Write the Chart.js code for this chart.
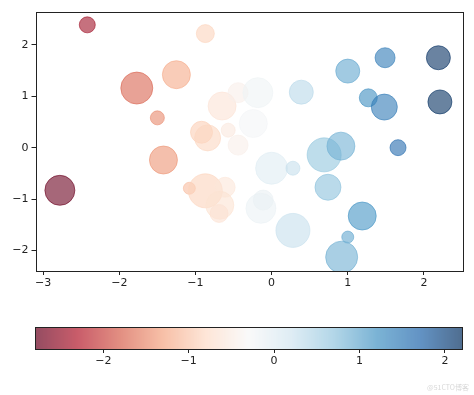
<!DOCTYPE html>
<html>
<head>
<meta charset="utf-8">
<script src="https://cdn.jsdelivr.net/npm/chart.js@4/dist/chart.umd.min.js"></script>
<style>
    body { margin: 0; background: #fff; }
    #wrap { position: relative; width: 474px; height: 395px; }
    canvas { position: absolute; left: 0; }
    #mark { position: absolute; right: 5px; bottom: 3px; font: 7px "Noto Sans CJK SC", sans-serif; color: #d8d8d8; }
</style>
</head>
<body>
<div id="wrap">
    <canvas id="scatter" width="474" height="295" style="top:0"></canvas>
    <canvas id="cbar" width="474" height="100" style="top:295px"></canvas>
    <div id="mark">@51CTO博客</div>
</div>
<script>
// point data (colour = x value)
const xs = [-2.42, -0.87, -1.77, -1.25, -1.50, -0.65, -0.44, -0.18, 0.39, 1.00, 1.49, 2.19, 1.27, 1.48, 2.21,
    -0.92, -0.84, -0.57, -0.24, -0.44, -1.42, -2.78, -1.08, -0.87, -0.61, -0.68, -0.69, 0.00, 0.28, 0.69,
    0.91, 1.66, 0.74, -0.14, -0.11, 0.28, 1.19, 1.00, 0.92];
const ys = [2.39, 2.22, 1.16, 1.42, 0.58, 0.81, 1.07, 1.07, 1.08, 1.49, 1.75, 1.75, 0.97, 0.79, 0.89,
    0.30, 0.19, 0.34, 0.47, 0.05, -0.24, -0.83, -0.79, -0.84, -0.77, -1.12, -1.28, -0.40, -0.40, -0.14,
    0.03, 0.00, -0.77, -1.18, -1.02, -1.61, -1.33, -1.74, -2.13];
const sizes = [8, 9, 16, 14, 7, 14, 10, 15, 12, 12, 10, 12, 9, 13, 12,
    11, 13, 7, 14, 10, 14, 15, 6, 17, 10, 14, 9, 16, 7, 17,
    14, 8, 13, 15, 10, 17, 14, 6, 16];
const xTicks = [-3, -2, -1, 0, 1, 2];
const yTicks = [-2, -1, 0, 1, 2];
const cbarTicks = [-2, -1, 0, 1, 2];
const cMin = -2.80, cMax = 2.20;

// RdBu colormap stops
const rdbu = [
    [0.404, 0.000, 0.122], [0.698, 0.094, 0.169], [0.839, 0.376, 0.302], [0.957, 0.647, 0.510],
    [0.992, 0.859, 0.780], [0.969, 0.969, 0.969], [0.820, 0.898, 0.941], [0.573, 0.773, 0.871],
    [0.263, 0.576, 0.765], [0.129, 0.400, 0.675], [0.020, 0.188, 0.380]
];
function cmap(v, alpha) {
    let t = Math.min(1, Math.max(0, (v - cMin) / (cMax - cMin))) * 10;
    const i = Math.min(9, Math.floor(t));
    const f = t - i;
    const a = rdbu[i], b = rdbu[i + 1];
    const c = a.map((ch, k) => Math.round((ch + (b[k] - ch) * f) * 255));
    return `rgba(${c[0]}, ${c[1]}, ${c[2]}, ${alpha})`;
}

const minus = v => (v < 0 ? '\u2212' + Math.abs(v) : String(v));
const font = { family: 'DejaVu Sans', size: 11 };

const boxPlugin = {
    id: 'box',
    afterDraw(chart) {
        const { ctx, chartArea: a } = chart;
        ctx.save();
        ctx.strokeStyle = '#222';
        ctx.lineWidth = 1;
        ctx.strokeRect(Math.round(a.left) + 0.5, Math.round(a.top) + 0.5, Math.round(a.right - a.left), Math.round(a.bottom - a.top));
        ctx.restore();
    }
};

const points = xs.map((x, i) => ({ x: x, y: ys[i], r: sizes[i] }));

new Chart(document.getElementById('scatter'), {
    type: 'bubble',
    data: {
        datasets: [{
            data: points,
            backgroundColor: c => cmap(c.raw.x, 0.6),
            borderColor: c => cmap(c.raw.x, 0.6),
            borderWidth: 1,
            hoverBorderWidth: 1
        }]
    },
    options: {
        responsive: false,
        animation: false,
        events: [],
        layout: { autoPadding: false, padding: { top: 12, right: 12, left: 0, bottom: 0 } },
        plugins: { legend: { display: false }, tooltip: { enabled: false } },
        scales: {
            x: {
                type: 'linear', min: -3.1, max: 2.5,
                afterBuildTicks: s => { s.ticks = xTicks.map(v => ({ value: v })); },
                afterFit: s => { s.height = 24; },
                grid: { drawOnChartArea: false, tickLength: 4, tickColor: '#222' },
                border: { display: false },
                ticks: { color: '#222', font: font, padding: 2, callback: v => minus(v) }
            },
            y: {
                type: 'linear', min: -2.40, max: 2.64,
                afterBuildTicks: s => { s.ticks = yTicks.map(v => ({ value: v })); },
                afterFit: s => { s.width = 35.5; },
                grid: { drawOnChartArea: false, tickLength: 4, tickColor: '#222' },
                border: { display: false },
                ticks: { color: '#222', font: font, padding: 3, callback: v => minus(v) }
            }
        }
    },
    plugins: [boxPlugin]
});

const gradientPlugin = {
    id: 'gradient',
    beforeDatasetsDraw(chart) {
        const { ctx, chartArea: a, scales: { x } } = chart;
        ctx.save();
        for (let px = Math.floor(a.left); px < a.right; px++) {
            ctx.fillStyle = cmap(x.getValueForPixel(px + 0.5), 0.7);
            ctx.fillRect(px, a.top, 1, a.bottom - a.top);
        }
        ctx.restore();
    }
};

new Chart(document.getElementById('cbar'), {
    type: 'scatter',
    data: { datasets: [{ data: [] }] },
    options: {
        responsive: false,
        animation: false,
        events: [],
        layout: { autoPadding: false, padding: { top: 32, right: 12, left: 35, bottom: 0 } },
        plugins: { legend: { display: false }, tooltip: { enabled: false } },
        scales: {
            x: {
                type: 'linear', min: cMin, max: cMax,
                afterBuildTicks: s => { s.ticks = cbarTicks.map(v => ({ value: v })); },
                afterFit: s => { s.height = 46; },
                grid: { drawOnChartArea: false, tickLength: 4, tickColor: '#222' },
                border: { display: false },
                ticks: { color: '#222', font: font, padding: 2, callback: v => minus(v) }
            },
            y: { display: false, min: 0, max: 1 }
        }
    },
    plugins: [gradientPlugin, boxPlugin]
});
</script>
</body>
</html>
